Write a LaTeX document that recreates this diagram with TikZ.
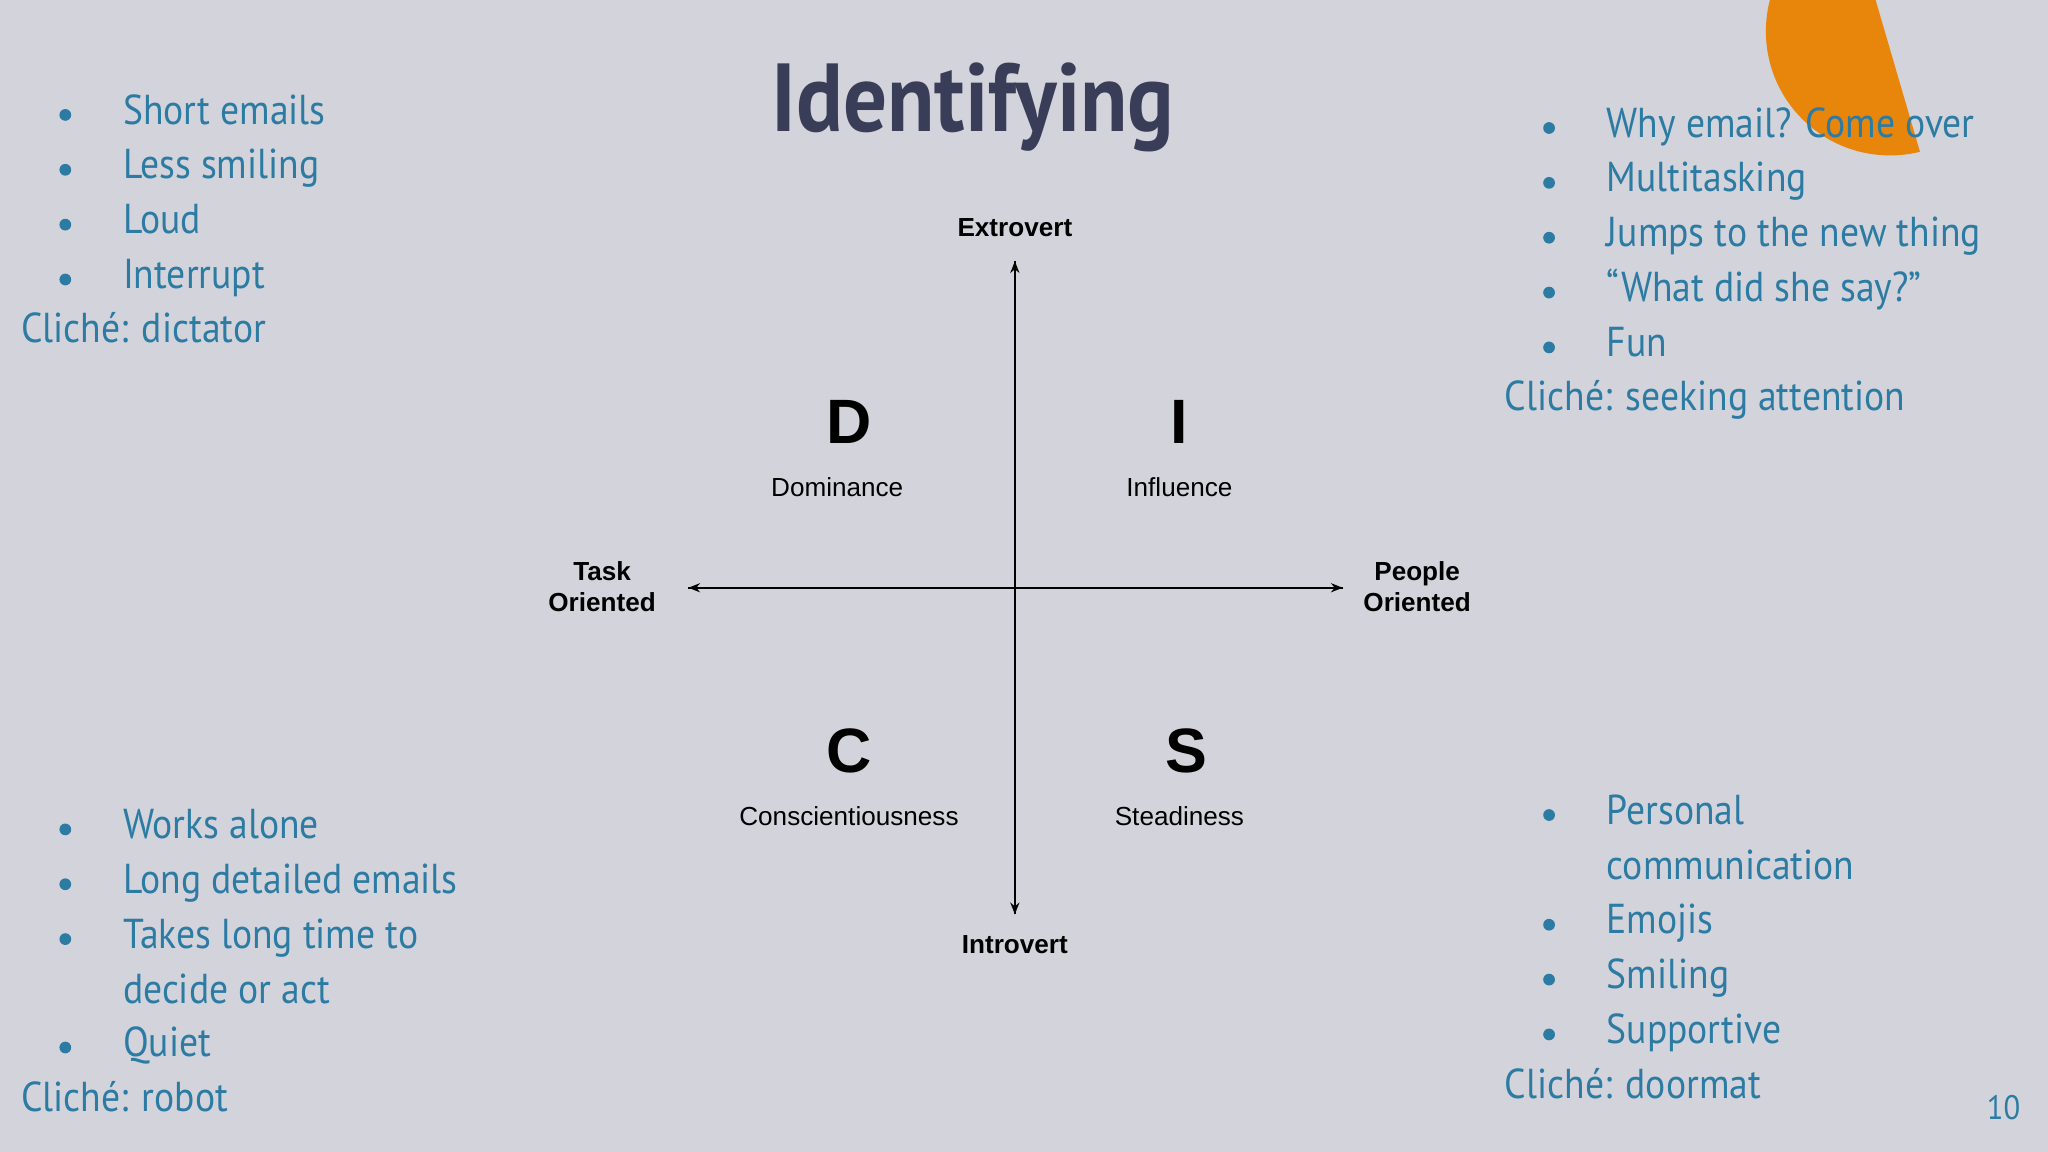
\documentclass[tikz,border=0pt]{standalone}
\usepackage{fontspec}
\setmainfont{Liberation Sans}
\newfontfamily\bodyfont[FakeStretch=0.9]{PT Sans}
\usetikzlibrary{arrows.meta}
\definecolor{bg}{HTML}{D3D3DC}
\definecolor{txt}{HTML}{2C7BA3}
\definecolor{ttl}{HTML}{3A3D58}
\definecolor{org}{HTML}{E8860C}
\tikzset{
  item/.style={anchor=base west,text=txt,font=\bodyfont\fontsize{32}{36}\selectfont,inner sep=0},
  dot/.style={circle,fill=txt,inner sep=0,minimum size=9pt},
  letter/.style={font=\bfseries\fontsize{48}{50}\selectfont},
  lab/.style={font=\fontsize{20}{22}\selectfont},
  axlab/.style={font=\bfseries\fontsize{20}{24}\selectfont,align=center},
  ax/.style={line width=1.3pt,-{Stealth[length=9pt,width=7pt]}}
}
\begin{document}
\begin{tikzpicture}[x=1pt,y=-1pt]
\fill[bg] (0,0) rectangle (1568,882);
\useasboundingbox (0,0) rectangle (1568,882);
\begin{scope}
\clip (1300,0) -- (1436,0) -- (1474,130) -- (1300,130) -- cycle;
\fill[org] (1447,24) circle (95);
\end{scope}
\node[anchor=base,font=\bodyfont\bfseries\fontsize{74}{78}\selectfont,text=ttl] (title) at (745,101) {Identifying};
% axes
\coordinate (top) at (777,200);
\coordinate (bot) at (777,700);
\coordinate (lft) at (527,450);
\coordinate (rgt) at (1028,450);
\draw[ax] (bot) -- (top);
\draw[ax] (top) -- (bot);
\draw[ax] (rgt) -- (lft);
\draw[ax] (lft) -- (rgt);
\node[axlab] (ext) at (777,174) {Extrovert};
\node[axlab] (intr) at (777,723) {Introvert};
\node[axlab] (task) at (461,449) {Task\\Oriented};
\node[axlab] (ppl) at (1085,449) {People\\Oriented};
\node[letter] (D) at (650,323) {D};
\node[lab] (Dl) at (641,373) {Dominance};
\node[letter] (I) at (903,323) {I};
\node[lab] (Il) at (903,373) {Influence};
\node[letter] (C) at (650,575) {C};
\node[lab] (Cl) at (650,625) {Conscientiousness};
\node[letter] (S) at (908,575) {S};
\node[lab] (Sl) at (903,625) {Steadiness};
% top-left
\foreach \t/\y [count=\i] in {Short emails/84,Less smiling/126,Loud/168,Interrupt/210}{
  \node[dot] (tld\i) at (50,\y+4) {};
  \node[item] (tl\i) at (94,\y+11) {\t};}
\node[item] (tlc) at (16,262) {Cliché: dictator};
% top-right
\foreach \t/\y [count=\i] in {Why email? Come over/94,Multitasking/136,Jumps to the new thing/178,“What did she say?”/220,Fun/262}{
  \node[dot] (trd\i) at (1186,\y+4) {};
  \node[item] (tr\i) at (1230,\y+11) {\t};}
\node[item] (trc) at (1152,314) {Cliché: seeking attention};
% bottom-left
\foreach \t/\y [count=\i] in {Works alone/631,Long detailed emails/673,Takes long time to/715,Quiet/798}{
  \node[dot] (bld\i) at (50,\y+4) {};
  \node[item] (bl\i) at (94,\y+11) {\t};}
\node[item] (bl5) at (94,768) {decide or act};
\node[item] (blc) at (16,851) {Cliché: robot};
% bottom-right
\foreach \t/\y [count=\i] in {Personal/620,Emojis/704,Smiling/746,Supportive/788}{
  \node[dot] (brd\i) at (1186,\y+4) {};
  \node[item] (br\i) at (1230,\y+11) {\t};}
\node[item] (br5) at (1230,673) {communication};
\node[item] (brc) at (1152,841) {Cliché: doormat};
\node[text=txt,font=\bodyfont\fontsize{26}{28}\selectfont] (pg) at (1534,848) {10};
\end{tikzpicture}
\end{document}
